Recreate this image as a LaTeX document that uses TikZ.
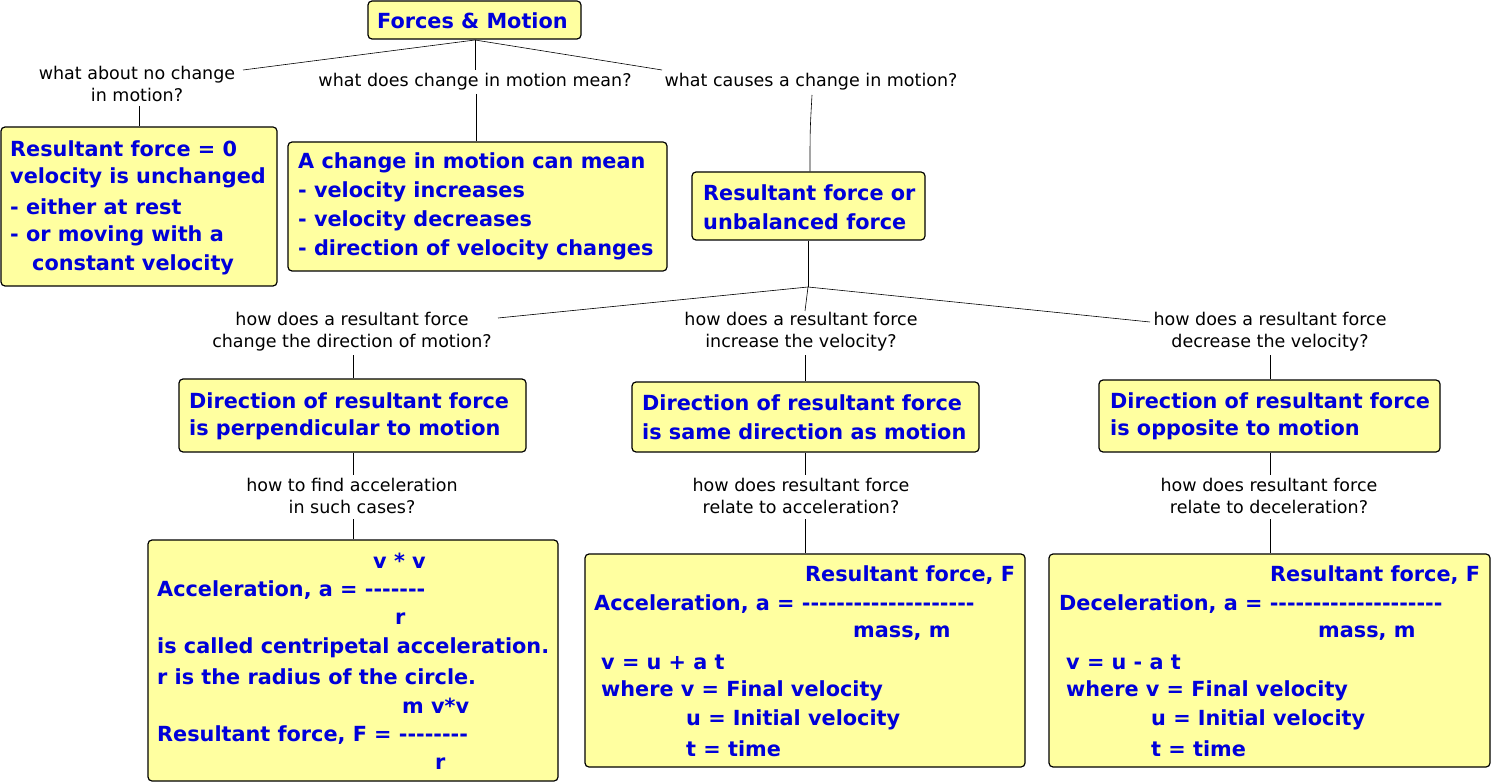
\documentclass[tikz,border=0pt]{standalone}
\usepackage{fontspec}
\setmainfont{DejaVu Sans}[Ligatures=TeXOff]
\begin{document}
\begin{tikzpicture}[x=1pt,y=-1pt,
  box/.style={draw=black,line width=1.2pt,rounded corners=4pt,fill={rgb,255:red,255;green,255;blue,160},inner sep=0pt},
  bt/.style={anchor=west,inner sep=0pt,text=blue!85!black,font=\bfseries\fontsize{20.8}{29}\selectfont,align=left},
  lab/.style={inner sep=1pt,font=\fontsize{17.5}{22}\selectfont,align=center},
  ln/.style={draw=black,line width=0.6pt}]
\useasboundingbox (0,0) rectangle (1495,783);
\newcommand{\bx}[5]{\node[box,minimum width={#4-#2},minimum height={#5-#3}] (#1) at ({(#2+#4)/2},{(#3+#5)/2}) {};}
\bx{top}{368}{1}{581}{39}
\bx{b1}{1}{127}{277}{286}
\bx{b2}{288}{142}{667}{271}
\bx{b3}{692}{172}{925}{240}
\bx{d1}{179}{379}{526}{452}
\bx{d2}{632}{382}{979}{452}
\bx{d3}{1099}{380}{1440}{452}
\bx{e1}{148}{540}{558}{781}
\bx{e2}{585}{554}{1025}{767}
\bx{e3}{1049}{554}{1490}{767}
\node[bt] at (377,21) {Forces \& Motion};
\node[bt] at (10,149) {Resultant force = 0};
\node[bt] at (10,178) {velocity is unchanged};
\node[bt] at (10,207) {- either at rest};
\node[bt] at (10,236) {- or moving with a};
\node[bt] at (32,265) {constant velocity};
\node[bt] at (298,163) {A change in motion can mean};
\node[bt] at (298,192) {- velocity increases};
\node[bt] at (298,221) {- velocity decreases};
\node[bt] at (298,250) {- direction of velocity changes};
\node[bt] at (703,193) {Resultant force or};
\node[bt] at (703,222) {unbalanced force};
\node[bt] at (189,401) {Direction of resultant force};
\node[bt] at (189,430) {is perpendicular to motion};
\node[bt] at (642,403) {Direction of resultant force};
\node[bt] at (642,432) {is same direction as motion};
\node[bt] at (1110,401) {Direction of resultant force};
\node[bt] at (1110,430) {is opposite to motion};
% bottom 1
\node[bt] at (373,561) {v * v};
\node[bt] at (157,590) {Acceleration, a = -------};
\node[bt] at (395,619) {r};
\node[bt] at (157,648) {is called centripetal acceleration.};
\node[bt] at (157,677) {r is the radius of the circle.};
\node[bt] at (402,706) {m v*v};
\node[bt] at (157,735) {Resultant force, F = --------};
\node[bt] at (435,764) {r};
% bottom 2
\node[bt] at (805,575) {Resultant force, F};
\node[bt] at (594,604) {Acceleration, a = --------------------};
\node[bt] at (853,633) {mass, m};
\node[bt] at (601,662) {v = u + a t};
\node[bt] at (601,691) {where v = Final velocity};
\node[bt] at (686,720) {u = Initial velocity};
\node[bt] at (686,749) {t = time};
% bottom 3
\node[bt] at (1270,575) {Resultant force, F};
\node[bt] at (1059,604) {Deceleration, a = --------------------};
\node[bt] at (1318,633) {mass, m};
\node[bt] at (1066,662) {v = u - a t};
\node[bt] at (1066,691) {where v = Final velocity};
\node[bt] at (1151,720) {u = Initial velocity};
\node[bt] at (1151,749) {t = time};
% labels
\node[lab] (l1) at (137,84) {what about no change\\in motion?};
\node[lab] (l2) at (475,82) {what does change in motion mean?};
\node[lab] (l3) at (811,82) {what causes a change in motion?};
\node[lab] (l4) at (352,332) {how does a resultant force\\change the direction of motion?};
\node[lab] (l5) at (801,332) {how does a resultant force\\increase the velocity?};
\node[lab] (l6) at (1270,332) {how does a resultant force\\decrease the velocity?};
\node[lab] (l7) at (352,496) {how to find acceleration\\in such cases?};
\node[lab] (l8) at (801,496) {how does resultant force\\relate to acceleration?};
\node[lab] (l9) at (1269,496) {how does resultant force\\relate to deceleration?};
% connectors
\coordinate (tp) at (475,40);
\draw[ln] (tp) -- (243,70);
\draw[ln] (139,106) -- (b1.north -| 139,0);
\draw[ln] (tp) -- (475,70);
\draw[ln] (476,94) -- (b2.north -| 476,0);
\draw[ln] (tp) -- (662,70);
\draw[ln] (812,95) .. controls (810,130) .. (b3.north -| 810,0);
\coordinate (rp) at (808,287);
\draw[ln] (b3.south -| 808,0) -- (rp);
\draw[ln] (rp) -- (498,318);
\draw[ln] (rp) -- (805,311);
\draw[ln] (rp) -- (1150,322);
\draw[ln] (353,355) -- (d1.north -| 353,0);
\draw[ln] (805,355) -- (d2.north -| 805,0);
\draw[ln] (1270,355) -- (d3.north -| 1270,0);
\draw[ln] (d1.south -| 353,0) -- (353,475);
\draw[ln] (353,519) -- (e1.north -| 353,0);
\draw[ln] (d2.south -| 805,0) -- (805,475);
\draw[ln] (805,519) -- (e2.north -| 805,0);
\draw[ln] (d3.south -| 1270,0) -- (1270,475);
\draw[ln] (1270,519) -- (e3.north -| 1270,0);
\end{tikzpicture}
\end{document}
